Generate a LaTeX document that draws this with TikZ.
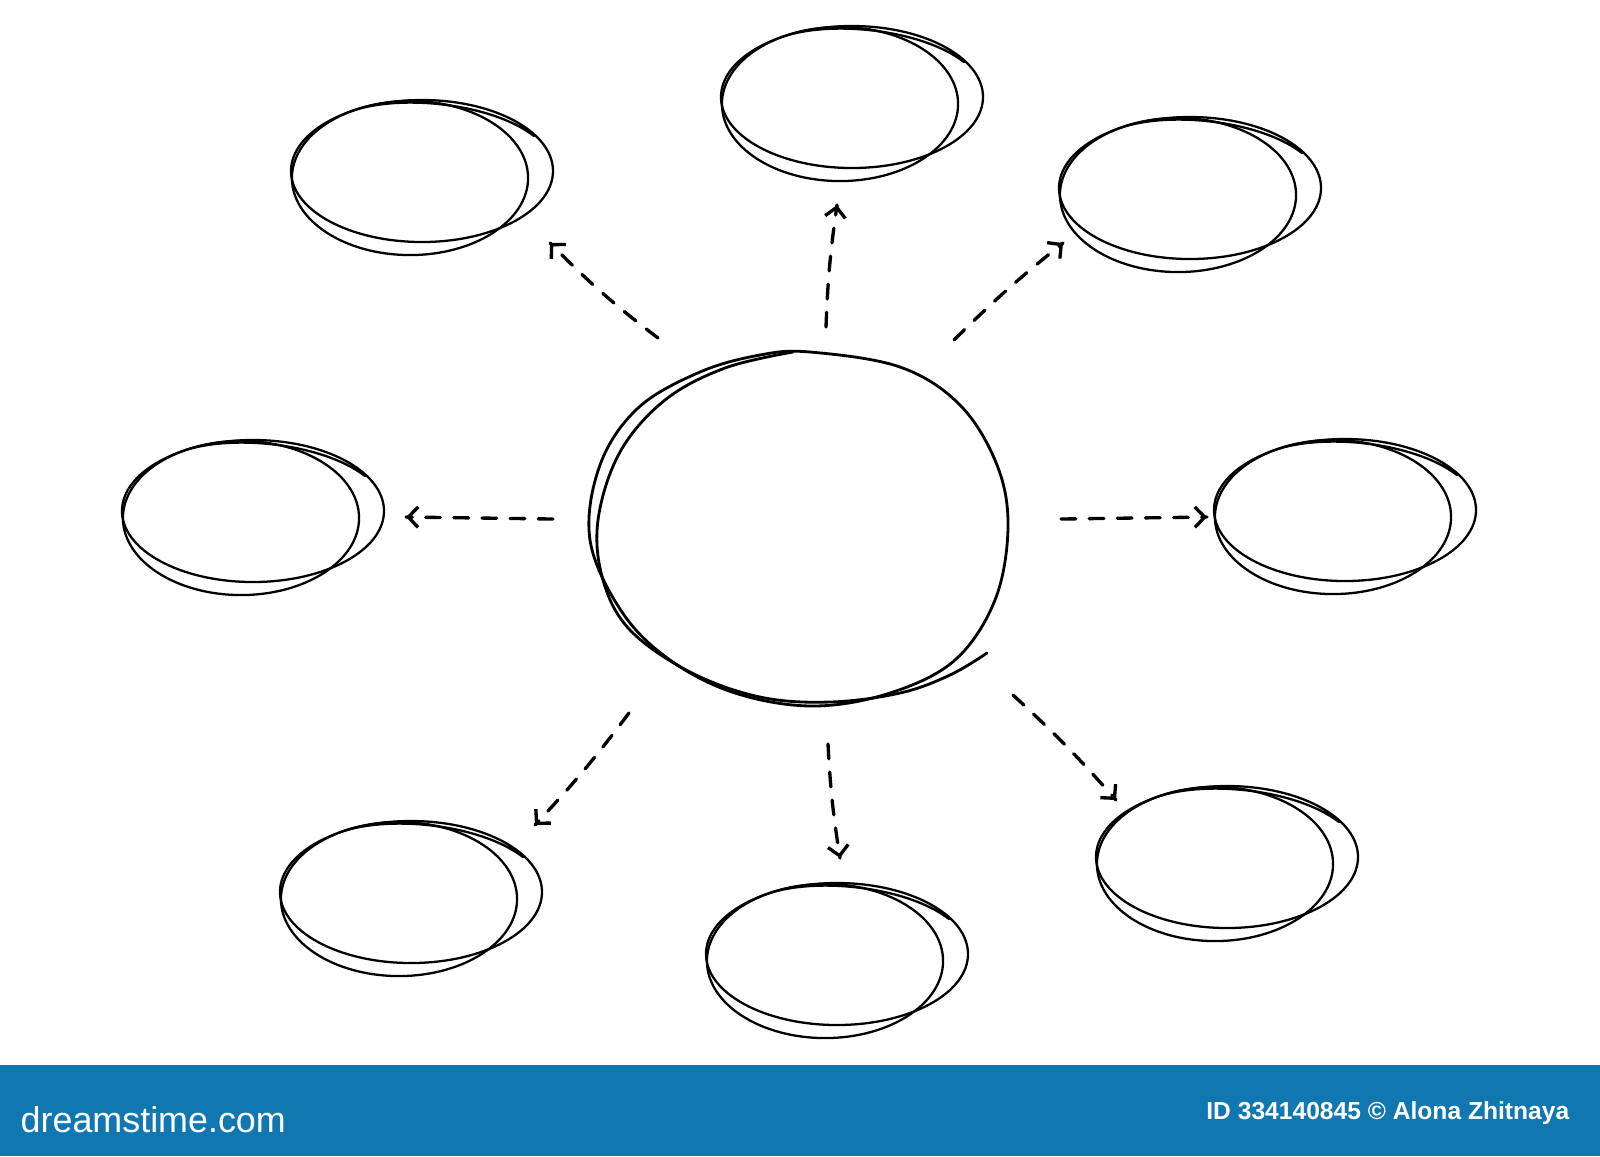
\documentclass[tikz,border=0pt]{standalone}
\usepackage{fontspec}
\usepackage{tikz}
\usetikzlibrary{shapes,arrows.meta,positioning,calc,decorations.markings}
\newfontfamily\bannerfont{Liberation Sans}
\definecolor{bannerblue}{RGB}{16,119,176}

\begin{document}
\begin{tikzpicture}[x=0.01cm,y=-0.01cm,
  sketch/.style={line width=0.65pt,line join=round,line cap=round},
  bubble/.style={ellipse,draw,sketch,minimum width=2.36cm,minimum height=1.54cm,inner sep=0pt},
  link/.style={line width=0.95pt,dash pattern=on 4.2pt off 3.8pt,line cap=round,
    postaction={decorate,decoration={markings,mark=at position 1 with
      {\pgfsetdash{}{0pt}\arrow[line width=0.95pt]{Straight Barb[length=2.8pt,width=5.8pt]}}}}}]

\useasboundingbox (0,0) rectangle (1600,1156);

%Second pen stroke round a bubble.
\def\scribble#1{\draw[sketch,shift={(#1.center)}] (12,-7) ellipse [x radius=131,y radius=71]
    (-68,-63) .. controls (-20,-86) and (80,-76) .. (124,-42);}

% HUB
    \coordinate (hub) at (798,528);
    \draw[sketch,line width=0.8pt] plot[smooth cycle,tension=0.6] coordinates {(810,352) (900,367) (960,405)
        (997,465) (1008,527) (995,600) (955,660) (890,693) (813,706) (735,693) (670,660)
        (622,612) (590,540) (600,465) (638,408) (700,372) (760,355)};
    \draw[sketch,line width=0.8pt] plot[smooth,tension=0.6] coordinates {(793,352) (725,368) (665,400)
        (620,452) (598,520) (603,580) (630,630) (690,672) (760,697) (830,702) (900,693)
        (950,675) (987,653)};

% BUBBLES
    \node[bubble] (tl) at (410,178) {};
    \node[bubble] (tp) at (840,104) {};
    \node[bubble] (tr) at (1178,195) {};
    \node[bubble] (lf) at (241,518) {};
    \node[bubble] (rt) at (1333,517) {};
    \node[bubble] (bl) at (399,899) {};
    \node[bubble] (bt) at (825,961) {};
    \node[bubble] (br) at (1215,864) {};
    \scribble{tl} \scribble{tp} \scribble{tr} \scribble{lf}
    \scribble{rt} \scribble{bl} \scribble{bt} \scribble{br}

% Define coordinates.
    \coordinate (stl) at (658,338);  \coordinate (etl) at (550,243);
    \coordinate (stp) at (826,327);  \coordinate (etp) at (837,205);
    \coordinate (str) at (954,340);  \coordinate (etr) at (1063,243);
    \coordinate (slf) at (553,519);  \coordinate (elf) at (406,517);
    \coordinate (srt) at (1061,519); \coordinate (ert) at (1207,517);
    \coordinate (sbl) at (629,713);  \coordinate (ebl) at (535,825);
    \coordinate (sbt) at (828,744);  \coordinate (ebt) at (840,858);
    \coordinate (sbr) at (1013,695); \coordinate (ebr) at (1116,800);

% Dashed arrows out of the hub.
    \draw[link] (stl) to[bend left=4] (etl);
    \draw[link] (stp) to[bend left=3] (etp);
    \draw[link] (str) to[bend left=3] (etr);
    \draw[link] (slf) -- (elf);
    \draw[link] (srt) -- (ert);
    \draw[link] (sbl) to[bend left=3] (ebl);
    \draw[link] (sbt) to[bend right=3] (ebt);
    \draw[link] (sbr) to[bend left=3] (ebr);

% Banner
    \fill[bannerblue] (0,1065) rectangle (1600,1156);
    \node[anchor=base west,inner sep=0pt,text=white,font=\bannerfont\fontsize{10.2}{12}\selectfont] (logo) at (20,1132) {dreamstime.com};
    \node[anchor=base east,inner sep=0pt,text=white,font=\bannerfont\bfseries\fontsize{7}{8}\selectfont] (credit) at (1570,1119) {ID 334140845 © Alona Zhitnaya};

\end{tikzpicture}
\end{document}
